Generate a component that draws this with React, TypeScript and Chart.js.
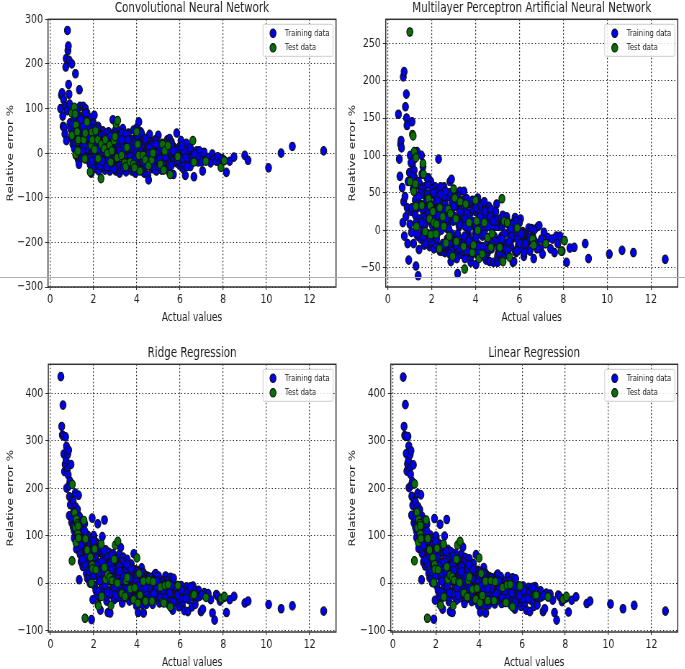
import React, { useEffect, useRef } from "react";
import { Chart, registerables } from "chart.js";

Chart.register(...registerables);

const trainX = [
  0.48,0.52,0.55,0.58,0.60,0.62,0.65,0.68,0.70,0.72,
  0.74,0.75,0.78,0.80,0.82,0.84,0.85,0.87,0.88,0.90,
  0.92,0.95,0.98,1.00,1.02,1.05,1.07,1.10,1.12,1.15,
  1.17,1.20,1.22,1.25,1.28,1.30,1.33,1.35,1.38,1.40,
  1.42,1.45,1.48,1.50,1.53,1.55,1.58,1.60,1.63,1.66,
  1.68,1.71,1.74,1.77,1.80,1.83,1.85,1.88,1.90,1.93,
  1.96,1.98,2.01,2.04,2.07,2.10,2.13,2.16,2.19,2.22,
  2.25,2.28,2.31,2.34,2.37,2.40,2.44,2.47,2.50,2.53,
  2.56,2.60,2.63,2.66,2.70,2.73,2.76,2.80,2.83,2.87,
  2.90,2.93,2.97,3.00,3.04,3.07,3.11,3.14,3.18,3.21,
  3.25,3.28,3.32,3.36,3.40,3.43,3.47,3.51,3.55,3.59,
  3.62,3.66,3.70,3.74,3.78,3.82,3.86,3.90,3.94,3.98,
  4.02,4.06,4.10,4.14,4.18,4.22,4.27,4.31,4.35,4.40,
  4.44,4.48,4.52,4.55,4.60,4.64,4.69,4.73,4.78,4.82,
  4.87,4.91,4.96,5.00,5.05,5.10,5.15,5.19,5.24,5.29,
  5.33,5.38,5.42,5.47,5.52,5.56,5.61,5.66,5.70,5.75,
  5.80,5.85,5.90,5.95,6.00,6.05,6.10,6.15,6.20,6.25,
  6.30,6.36,6.42,6.48,6.55,6.60,6.65,6.70,6.78,6.85,
  6.90,6.97,7.05,7.12,7.20,7.30,7.42,7.50,7.60,7.68,
  7.75,7.85,7.95,8.05,8.15,8.30,8.50,9.00,9.15,10.10,
  10.68,11.20,12.65,1.35,1.55,1.75,1.95,2.15,2.35,2.55,
  2.75,2.95,3.15,3.35,3.55,3.75,3.95,4.15,4.35,4.55,
  1.25,1.45,1.65,1.85,2.05,2.25,2.45,2.65,2.85,3.05,
  3.25,3.45,3.65,3.85,4.05,4.25,4.45,4.65,4.85,5.05,
  5.25,5.45,5.65,5.85,6.05,1.90,2.30,2.70,3.10,3.50,
  3.90,4.30,4.70,5.10,5.50,2.10,2.50,2.90,3.30,3.70,
  1.10,1.20,1.30,1.40,1.50,1.60,1.70,1.80,1.90,2.00,
  2.10,2.20,2.30,2.40,2.50,2.60,2.70,2.80,2.90,3.00,
  3.10,3.20,3.30,3.40,3.50,3.60,3.70,3.80,3.90,4.00,
  4.10,4.20,4.30,4.40,4.50,4.60,4.70,4.80,4.90,5.00,
  5.20,5.40,5.60,5.80,6.00,6.20,6.40,6.60,6.80,7.00,
  1.15,1.35,1.52,1.72,1.88,2.08,2.22,2.42,2.58,2.78,
  2.92,3.12,3.28,3.48,3.62,3.82,3.98,4.18,4.32,4.52,
  4.68,4.88,5.02,5.22,5.38,5.58,5.72,5.92,6.12,6.32,
  1.05,1.28,1.48,1.62,1.82,1.98,2.18,2.32,2.52,2.68,
  2.82,3.02,3.18,3.38,3.52,3.72,3.88,4.08,4.22,4.42,
  4.58,4.78,4.92,5.12,5.28,5.48,5.62,5.82,6.02,6.22,
  1.40,1.58,1.78,1.92,2.12,2.28,2.48,2.62,2.82,2.98,
  3.18,3.32,3.52,3.68,3.88,4.02,4.22,4.38,4.58,4.72,
  4.92,5.08,5.32,5.52,5.68,5.88,6.08,6.28,6.48,6.68,
  2.00,2.40,2.80,3.20,3.60,4.00,4.40,4.80,5.20,5.60,
];

const trainCnn = [
  100,130,135,83,60,120,58,43,105,193,
  212,28,95,275,230,240,154,132,208,110,
  68,55,35,200,90,20,45,75,10,100,
  178,-2,60,30,85,-15,-25,142,105,45,
  15,-10,70,28,105,85,50,-5,100,30,
  65,10,-15,45,80,25,-25,55,-45,5,
  35,70,-20,85,15,50,-35,30,-5,60,
  -40,20,45,0,-30,35,50,-15,25,-38,
  42,5,-25,30,48,-10,-40,22,40,-30,
  75,10,-20,35,-40,55,15,-25,40,-45,
  -5,28,-35,55,10,-20,38,-42,20,-10,
  45,-30,5,30,-40,15,52,-20,-45,35,
  58,-15,70,5,-35,25,38,-10,-45,12,
  -25,20,-50,-60,42,-10,25,-35,5,-20,
  30,-40,15,40,-15,8,-38,22,-5,-30,
  15,-18,30,-35,33,5,-25,-10,-48,12,
  -5,45,-20,5,-28,28,-8,-35,5,-50,
  22,-15,5,-30,-8,3,-53,-12,5,-20,
  5,-8,-40,2,-15,-10,-22,-2,-12,-18,
  -8,-22,-12,-16,-43,-18,-9,-5,-16,-33,
  0,15,5,60,-8,35,-30,-15,25,-20,
  -5,-35,0,-28,-12,10,-25,-22,18,-15,
  95,55,40,60,-8,10,-22,12,-12,20,
  -30,8,-18,-5,-30,-18,5,-30,-12,-28,
  -20,-8,18,-22,-12,12,-25,-32,-15,25,
  -8,-28,10,-25,-42,-10,-30,-8,15,-32,
  55,-5,80,70,15,60,90,-10,40,65,
  25,55,-25,40,5,45,-5,30,15,50,
  20,-28,45,-8,35,12,-22,30,-5,-35,
  22,-10,35,-32,10,-20,18,-5,28,-15,
  12,-12,25,-5,15,-25,8,-15,-8,-20,
  25,80,60,35,-12,25,40,15,-18,8,
  28,-12,-38,32,20,-28,5,48,-20,15,
  -5,28,-30,10,-12,25,-18,8,-12,-30,
  65,40,5,90,15,45,8,-28,35,-15,
  12,-10,30,-32,42,-8,25,-38,45,-25,
  12,-28,-2,20,-12,-38,20,-18,12,5,
  75,20,60,-18,35,-8,18,-30,-22,42,
  10,30,-30,25,-15,40,-38,28,-2,-22,
  20,-12,-8,-25,5,-15,15,-10,12,-2,
  55,-18,38,5,30,15,32,-5,8,-28,
];

const trainMlp = [
  155,95,72,115,120,110,57,10,205,38,
  212,-8,45,165,18,182,150,140,30,-18,
  65,-40,77,8,100,25,-3,145,88,55,
  -18,80,70,20,-48,42,105,-8,-61,60,
  -26,15,35,-12,100,75,0,48,22,-20,
  58,8,38,-15,45,-5,70,25,-22,12,
  65,-12,32,5,48,-25,18,58,-8,28,
  -20,52,95,10,-28,35,0,42,-18,20,
  58,-30,8,30,-12,45,-25,12,65,-42,
  68,22,-8,40,-30,18,-15,-38,-58,30,
  5,52,-32,20,-12,40,52,-38,10,-20,
  35,-5,-30,22,-43,8,40,-15,-30,25,
  -46,5,43,-20,15,-35,35,-8,-28,20,
  2,-40,28,-15,32,-42,8,-25,15,-43,
  22,-12,35,-43,5,15,-28,-8,20,-35,
  10,-18,18,-30,-3,5,-22,-12,-43,-42,
  17,-8,5,-20,-25,15,-10,-2,-35,-15,
  -5,-14,3,-28,2,-8,-38,1,-18,5,
  6,-25,-32,-3,-18,-10,-25,-12,-30,-8,
  -18,-8,-28,-14,-43,-24,-23,-18,-38,-32,
  -27,-30,-39,30,-8,15,48,-18,38,5,
  25,-25,12,-18,28,-22,5,22,10,-30,
  40,62,8,-18,15,-5,-28,15,-18,50,
  -20,18,-10,12,-18,8,-25,20,-8,-25,
  -18,12,-2,-30,-25,35,15,2,-22,-8,
  -25,12,-12,-20,8,28,8,-5,25,3,
  30,95,-5,65,10,85,28,48,-15,55,
  -10,45,20,58,-22,35,5,50,-28,32,
  48,-18,35,10,-25,42,15,-35,30,5,
  -22,28,-5,38,-30,15,28,-18,5,-35,
  8,-20,5,-28,10,-5,-15,-10,-25,-12,
  72,35,55,-18,22,50,-12,30,45,2,
  38,-20,8,-28,22,-30,-5,32,-22,8,
  18,-15,-32,5,-25,-15,10,-12,-5,-20,
  90,10,50,-8,62,-15,40,0,28,-20,
  -15,32,-5,-28,15,-12,30,-32,2,25,
  -25,5,25,-12,10,-28,-8,12,-18,-30,
  45,28,70,-10,8,40,-22,52,-32,12,
  45,-25,5,-15,28,-10,18,-35,5,-18,
  12,-30,-5,-15,8,-28,-5,-18,-10,-14,
  30,48,-18,38,-28,30,-5,12,-12,2,
];

const trainRidge = [
  435,330,312,375,310,272,235,250,308,260,
  288,200,240,272,228,280,205,142,182,215,
  165,250,128,175,135,172,150,95,125,190,
  160,72,145,155,88,185,7,140,60,118,
  45,105,130,35,90,78,125,55,105,20,
  70,10,100,40,95,0,75,25,-77,137,
  -35,60,98,-5,30,-15,85,45,125,10,
  -30,65,-57,30,-10,98,50,-20,133,15,
  70,-38,35,-62,65,5,-63,42,-25,18,
  62,-15,35,-32,10,50,-22,28,60,-5,
  75,18,-42,55,-15,35,-30,10,50,-22,
  28,-38,5,40,-18,20,62,-35,8,-48,
  25,-62,-15,12,-40,32,-25,-63,18,-8,
  -45,15,-22,5,-35,-12,10,-45,-20,18,
  20,-30,-5,15,-42,-12,-28,5,-38,-15,
  15,-32,-5,-45,-18,12,-28,-57,10,-15,
  -40,-5,-22,-50,-10,-30,-48,-15,-58,-22,
  -8,-60,-25,-12,-50,-6,-30,-45,-22,-15,
  -28,-60,-55,-20,-28,-22,-35,-63,-78,-24,
  -28,-38,-32,-30,-62,-35,-28,-42,-38,-45,
  -54,-48,-59,100,48,70,20,-25,78,-22,
  25,-35,-8,28,-25,10,28,-30,-15,-28,
  100,60,85,50,75,35,55,-15,48,-18,
  -28,-5,18,-25,-5,-45,-2,8,-28,-8,
  5,-25,-35,-18,-5,85,10,40,15,30,
  15,-35,-15,-30,-8,50,22,-5,-20,-12,
  110,120,105,70,85,40,60,15,90,100,
  60,20,75,40,-5,55,15,-22,30,50,
  -30,40,5,-15,30,-25,20,-35,25,-10,
  15,-28,22,-5,-35,12,-15,-30,5,-20,
  -15,5,-30,-12,-28,-18,-35,-15,-30,-25,
  115,65,110,85,30,55,-18,68,-28,40,
  -8,25,45,-30,35,-12,5,-22,8,-25,
  0,-15,-25,-5,-20,-35,-12,-28,-40,-18,
  118,75,50,90,65,15,42,80,-5,55,
  28,-25,38,15,-12,30,-30,-5,22,-18,
  -10,-35,5,-18,-30,-2,-22,-8,-32,-20,
  80,110,25,60,38,5,68,-20,52,-8,
  35,-22,40,10,-32,25,-15,-38,12,-25,
  -12,-30,-2,-20,-40,-25,-15,-32,-8,-28,
  88,45,58,25,-8,18,-10,-22,-15,-5,
];

const trainLinear = [
  434,330,311,376,309,273,236,251,309,259,
  289,201,241,271,229,279,206,143,183,214,
  164,249,127,174,136,171,151,96,124,189,
  161,73,146,154,87,186,7,141,61,117,
  44,106,131,36,91,77,124,54,104,21,
  69,11,101,41,94,1,74,26,-76,136,
  -36,59,97,-6,31,-16,84,46,124,9,
  -31,64,-55,31,-11,99,49,-21,134,14,
  71,-39,36,-60,66,4,-62,41,-26,17,
  63,-16,36,-33,9,49,-23,29,61,-6,
  76,17,-43,54,-16,36,-31,9,51,-23,
  27,-39,4,41,-19,19,60,-36,7,-47,
  24,-61,-16,11,-41,33,-26,-63,17,-9,
  -46,14,-23,4,-36,-13,9,-44,-21,17,
  19,-31,-6,14,-43,-13,-29,4,-39,-16,
  14,-33,-6,-46,-19,11,-29,-55,9,-16,
  -41,-6,-23,-49,-11,-31,-47,-16,-57,-23,
  -9,-60,-26,-13,-49,-7,-31,-46,-23,-16,
  -29,-60,-54,-21,-29,-23,-36,-62,-78,-25,
  -29,-39,-33,-31,-61,-36,-29,-43,-38,-44,
  -54,-47,-59,99,47,69,19,-26,79,-23,
  24,-36,-9,27,-26,9,27,-31,-16,-29,
  99,59,84,49,74,34,54,-16,47,-19,
  -29,-6,17,-26,-6,-46,-3,7,-29,-9,
  4,-26,-36,-19,-6,84,9,39,14,29,
  14,-36,-16,-31,-9,49,21,-6,-21,-13,
  109,119,104,71,84,41,59,16,89,99,
  61,19,74,41,-6,54,16,-23,29,49,
  -31,39,6,-16,29,-26,19,-36,24,-11,
  14,-29,21,-6,-36,11,-16,-31,4,-21,
  -16,4,-31,-13,-29,-19,-36,-16,-31,-26,
  114,64,109,84,31,54,-19,67,-29,39,
  -9,24,44,-31,34,-13,4,-23,7,-26,
  -1,-16,-26,-6,-21,-36,-13,-29,-41,-19,
  117,74,49,89,64,14,41,79,-6,54,
  27,-26,37,14,-13,29,-31,-6,21,-19,
  -11,-36,4,-19,-31,-3,-23,-9,-33,-21,
  79,109,24,59,37,4,67,-21,51,-9,
  34,-23,39,9,-33,24,-16,-39,11,-26,
  -13,-31,-3,-21,-41,-26,-16,-33,-9,-29,
  87,44,57,24,-9,17,-11,-23,-16,-6,
];

const testX = [
  1.00,1.01,1.12,1.15,1.18,1.20,1.25,1.27,1.28,1.30,
  1.55,1.60,1.62,1.70,1.85,1.90,1.93,1.95,2.05,2.10,
  2.20,2.22,2.35,2.37,2.50,2.55,2.65,2.75,2.80,2.85,
  2.95,3.00,3.05,3.12,3.10,3.30,3.45,3.50,3.55,3.70,
  3.85,3.90,4.00,4.05,4.10,4.15,4.30,4.40,4.55,4.70,
  4.75,5.10,5.20,5.25,5.30,5.45,5.55,5.90,6.60,6.65,
  7.20,7.90,8.05,
];

const testCnn = [
  90,40,103,88,-3,63,48,27,5,30,
  30,-13,45,70,-42,18,47,30,8,50,
  30,-12,-57,20,10,30,0,18,-20,5,
  28,37,65,73,-10,-5,-22,-30,13,-20,
  -25,-33,48,20,-5,-40,-5,-15,-28,-15,
  0,-25,20,-38,5,17,-48,-8,28,-20,
  -18,-32,-17,
];

const testMlp = [
  265,65,128,126,52,105,62,32,97,5,
  33,89,75,-2,42,15,33,-6,25,10,
  -5,8,-25,30,18,5,-17,28,-8,22,
  -35,55,43,-15,15,38,-22,-52,35,10,
  -30,-20,40,12,0,-38,-32,10,-10,-23,
  -5,-23,42,-42,12,10,-36,3,-12,-20,
  -18,-28,-14,
];

const testRidge = [
  47,208,148,118,85,135,125,105,120,95,
  132,-74,93,70,55,0,38,30,72,28,
  -45,-48,82,-28,33,8,18,12,-47,5,
  50,80,2,88,0,-22,-28,5,12,-12,
  -35,-10,53,-42,20,-25,4,-38,6,-38,
  3,-8,-40,-42,-5,-3,-50,-5,-26,-24,
  -30,-33,-28,
];

const testLinear = [
  47,209,149,117,86,134,126,104,121,94,
  133,-74,94,70,54,1,39,29,73,28,
  -46,-47,82,-29,34,8,17,13,-47,6,
  50,80,3,88,1,-21,-29,6,13,-13,
  -34,-11,53,-41,20,-26,4,-37,5,-37,
  3,-9,-41,-41,-4,-3,-50,-6,-26,-25,
  -29,-34,-28,
];

const titles = [
  "Convolutional Neural Network",
  "Multilayer Perceptron Artificial Neural Network",
  "Ridge Regression",
  "Linear Regression",
];
const trainSeries = [trainCnn, trainMlp, trainRidge, trainLinear];
const testSeries = [testCnn, testMlp, testRidge, testLinear];
const yMins = [-300, -76, -103, -103];
const yMaxs = [300, 282, 461, 461];
const ySteps = [100, 50, 100, 100];
const trainLabel = "Training data";
const testLabel = "Test data";
const xTitle = "Actual values";
const yTitle = "Relative error %";

// page-pixel placement of each panel; the drawing is squeezed horizontally by SX
const SX = 0.72;
const boxes = [
  { left: 0, top: 0, width: 342, yWidth: 48, right: 6 },
  { left: 342, top: 0, width: 343, yWidth: 43.7, right: 7 },
  { left: 0, top: 345, width: 342, yWidth: 48.3, right: 6 },
  { left: 342, top: 345, width: 343, yWidth: 48.7, right: 7 },
];
const HEIGHT = 324;
const FONT = "'DejaVu Sans', sans-serif";

const panelDecor = {
  id: "panelDecor",
  afterDatasetsDraw(chart: any) {
    const { ctx, chartArea: a } = chart;
    const bw = 70 / SX;
    const bx = a.right - 3 / SX - bw;
    const by = a.top + 5;
    ctx.save();
    ctx.fillStyle = "rgba(255,255,255,0.85)";
    ctx.strokeStyle = "#ccc";
    ctx.lineWidth = 1;
    ctx.beginPath();
    ctx.roundRect(bx, by, bw, 32, 2);
    ctx.fill();
    ctx.stroke();
    ctx.font = `9.5px ${FONT}`;
    ctx.textBaseline = "middle";
    ctx.textAlign = "left";
    [1, 0].forEach((di, i) => {
      const ds = chart.data.datasets[di];
      const y = by + 9 + i * 14.5;
      ctx.beginPath();
      ctx.arc(bx + 10 / SX, y, ds.pointRadius, 0, Math.PI * 2);
      ctx.fillStyle = ds.backgroundColor;
      ctx.fill();
      ctx.lineWidth = ds.borderWidth;
      ctx.strokeStyle = ds.borderColor;
      ctx.stroke();
      ctx.fillStyle = "#222";
      ctx.fillText(ds.label, bx + 22 / SX, y);
    });
    ctx.strokeStyle = "#333";
    ctx.lineWidth = 1.5;
    ctx.strokeRect(a.left, a.top, a.right - a.left, a.bottom - a.top);
    ctx.restore();
  },
};

function Panel({ index }: { index: number }) {
  const ref = useRef<HTMLCanvasElement>(null);
  const box = boxes[index];
  const inner = Math.round(box.width / SX);
  useEffect(() => {
    const style = { pointRadius: 4.2, borderWidth: 1.2, borderColor: "#111" };
    const chart = new Chart(ref.current!, {
      type: "scatter",
      data: {
        datasets: [
          {
            label: testLabel,
            data: testX.map((x, i) => ({ x, y: testSeries[index][i] })),
            backgroundColor: "#067006",
            order: 1,
            ...style,
          },
          {
            label: trainLabel,
            data: trainX.map((x, i) => ({ x, y: trainSeries[index][i] })),
            backgroundColor: "#0000ee",
            order: 2,
            ...style,
          },
        ],
      },
      options: {
        animation: false,
        responsive: false,
        devicePixelRatio: 1,
        layout: { padding: { left: 0, right: box.right / SX, top: 0, bottom: 0 } },
        plugins: {
          legend: { display: false },
          tooltip: { enabled: false },
          title: {
            display: true,
            fullSize: false,
            text: titles[index],
            color: "#222",
            font: { family: FONT, size: 14.3, weight: "normal", lineHeight: 1 },
            padding: { top: 1, bottom: 4 },
            align: "center",
          },
        },
        scales: {
          x: {
            type: "linear",
            min: -0.1,
            max: 13.22,
            afterFit: (s: any) => {
              s.height = 37;
            },
            ticks: {
              stepSize: 2,
              includeBounds: false,
              maxRotation: 0,
              color: "#222",
              padding: 2,
              font: { family: FONT, size: 13 },
            },
            grid: { color: "#222", tickLength: 3, tickColor: "#333", lineWidth: 1.2 },
            border: { display: false, dash: [1.5, 2] },
            title: {
              display: true,
              text: xTitle,
              color: "#222",
              padding: 0,
              font: { family: FONT, size: 12.5, lineHeight: 1 },
            },
          },
          y: {
            type: "linear",
            min: yMins[index],
            max: yMaxs[index],
            afterFit: (s: any) => {
              s.width = box.yWidth / SX;
            },
            ticks: {
              stepSize: ySteps[index],
              includeBounds: index === 0,
              color: "#222",
              padding: 3,
              font: { family: FONT, size: 13 },
              callback: (v: any) => String(v).replace("-", "\u2212"),
            },
            grid: { color: "#222", tickLength: 4, tickColor: "#333", lineWidth: 1 },
            border: { display: false, dash: [1.5, 3] },
            title: {
              display: true,
              text: yTitle,
              color: "#222",
              padding: { top: 9, bottom: 0 },
              font: { family: FONT, size: 12, lineHeight: 1 },
            },
          },
        },
      },
      plugins: [panelDecor],
    } as any);
    return () => chart.destroy();
  }, [index]);
  return (
    <canvas
      ref={ref}
      width={inner}
      height={HEIGHT}
      style={{
        position: "absolute",
        left: box.left,
        top: box.top,
        transformOrigin: "0 0",
        transform: `scaleX(${SX})`,
        filter: "blur(0.4px)",
      }}
    />
  );
}

export default function App() {
  return (
    <div
      style={{
        position: "absolute",
        left: 0,
        top: 0,
        width: 685,
        height: 669,
        overflow: "hidden",
        background: "#fff",
      }}
    >
      {boxes.map((_, i) => (
        <Panel key={i} index={i} />
      ))}
      <div style={{ position: "absolute", left: 0, top: 277, width: 685, height: 1, background: "#b0b0b0" }} />
    </div>
  );
}
